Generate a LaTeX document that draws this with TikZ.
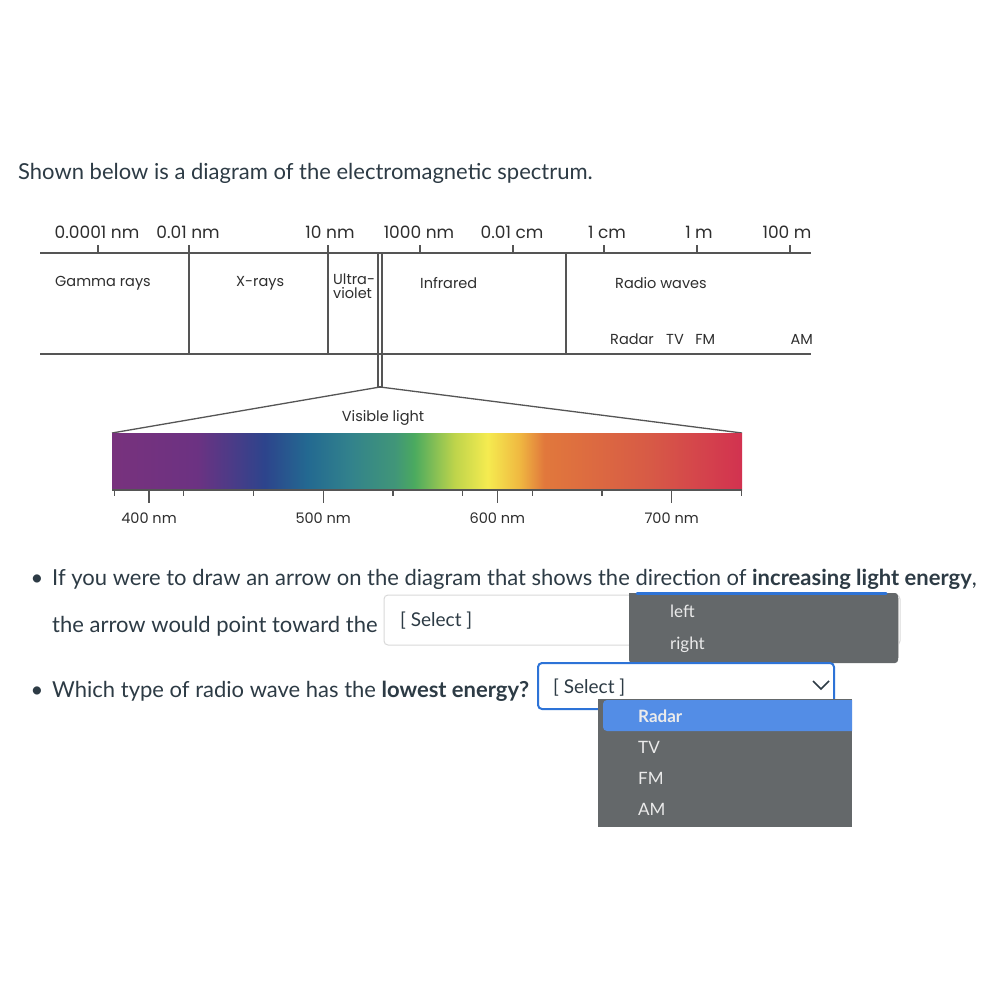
\documentclass[tikz,border=0pt]{standalone}
\usepackage{fontspec}
\setmainfont{Lato}
\newfontfamily\specfont{Poppins}
\usetikzlibrary{positioning,calc}
% colours of the visible band
\definecolor{v1}{RGB}{120,50,125}
\definecolor{v2}{RGB}{108,50,130}
\definecolor{v3}{RGB}{45,68,140}
\definecolor{v4}{RGB}{35,105,145}
\definecolor{v4b}{RGB}{50,130,140}
\definecolor{v5}{RGB}{65,150,120}
\definecolor{v6}{RGB}{75,170,95}
\definecolor{v7}{RGB}{190,212,75}
\definecolor{v8}{RGB}{245,235,80}
\definecolor{v9}{RGB}{240,185,65}
\definecolor{v10}{RGB}{225,120,60}
\definecolor{v11}{RGB}{215,90,70}
\definecolor{v12}{RGB}{210,50,80}
\pgfdeclarehorizontalshading{visible}{100bp}{color(0bp)=(v1); color(25bp)=(v1);
  color(31.7bp)=(v2); color(37.1bp)=(v3); color(40.5bp)=(v4); color(43.9bp)=(v4b);
  color(47.5bp)=(v5); color(49bp)=(v6); color(52.2bp)=(v7); color(54.8bp)=(v8);
  color(57.3bp)=(v9); color(59.3bp)=(v10); color(67.7bp)=(v11); color(75bp)=(v12); color(100bp)=(v12)}

\begin{document}
\begin{tikzpicture}[x=1pt,y=-1pt]
	\definecolor{textcolor}{RGB}{45,59,69}
	\definecolor{linecolor}{RGB}{85,85,85}
	\definecolor{menucolor}{RGB}{100,104,106}
	\definecolor{focuscolor}{RGB}{45,115,215}
	\definecolor{pickcolor}{RGB}{83,141,230}
	\tikzstyle{body}=[anchor=base west, inner sep=0pt, text=textcolor, font=\fontsize{22}{26}\selectfont]
	\tikzstyle{bandtext}=[inner sep=0pt, text=black!82, font=\specfont\fontsize{14.5}{14}\selectfont]
	\tikzstyle{ticktext}=[bandtext, anchor=base, font=\specfont\fontsize{17}{18}\selectfont]
	\tikzstyle{option}=[anchor=base west, inner sep=0pt, text=white!92!black, font=\fontsize{17}{18}\selectfont]
	\tikzstyle{rule}=[draw=linecolor, line width=1.3pt]
	\def\nmx#1{149+(#1-400)*1.742}
	
	\useasboundingbox (0,0) rectangle (1000,1000);
	\fill[white] (0,0) rectangle (1000,1000);
	
	% Draw the heading
	\node[body] (title) at (18,180) {Shown below is a diagram of the electromagnetic spectrum.};
	
	% Draw the band of the spectrum
	\draw[rule] (40,253) -- (811,253);
	\draw[rule] (40,354) -- (811,354);
	\foreach \x in {189,328,566}
	 \draw[rule] (\x,253) -- (\x,354);
	\draw[rule] (378,253) -- (378,387);
	\draw[rule] (382,253) -- (382,387);
	\foreach \x in {98,189,328,420,513,604,697,790}
	 \draw[rule] (\x,245) -- (\x,253);
	% Draw the scale labels
	\foreach \x/\txt [count=\i] in {97/0.0001 nm,188/0.01 nm,330/10 nm,419/1000 nm,512/0.01 cm,607/1 cm,699/1 m,787/100 m}
	 \node[ticktext] (S-\i) at (\x,238) {\txt};
	% Draw the band names
	\node[bandtext, anchor=west] (gamma) at (55,283) {Gamma rays};
	\node[bandtext, anchor=west] (xray) at (236,283) {X-rays};
	\node[bandtext, anchor=north west, align=left, font=\specfont\fontsize{14.5}{14}\selectfont] (uv) at (333,274) {Ultra-\\violet};
	\node[bandtext, anchor=west] (ir) at (420,283) {Infrared};
	\node[bandtext, anchor=west] (radio) at (615,283) {Radio waves};
	\node[bandtext, anchor=west] (radar) at (610,339) {Radar};
	\node[bandtext, right=12pt of radar] (tv) {TV};
	\node[bandtext, right=11pt of tv] (fm) {FM};
	\node[bandtext, anchor=east] (am) at (813,339) {AM};
	
	% Draw the visible light fan
	\coordinate (apex) at (380,387);
	\coordinate (bar-l) at (112,433);
	\coordinate (bar-r) at (742,433);
	\draw[rule] (apex) -- (bar-l);
	\draw[rule] (apex) -- (bar-r);
	\draw[rule] (378,387) -- (382,387);
	\node[bandtext, anchor=base] (vis) at (383,421) {Visible light};
	\shade[shading=visible] (112,433) rectangle (742,490);
	\draw[rule] (112,490) -- (742,490);
	\foreach \nm in {380,420,...,740}
	 \draw[rule] ({\nmx{\nm}},490) -- ({\nmx{\nm}},496);
	\foreach \nm in {400,500,600,700}
	 \draw[rule] ({\nmx{\nm}},490) -- ({\nmx{\nm}},503)
	  node[bandtext, anchor=base] (W-\nm) at ({\nmx{\nm}},523) {\nm{} nm};
	
	% Draw the first question
	\node[body, anchor=base] (dot-1) at (37,585) {•};
	\node[body] (q-1) at (52,585) {If you were to draw an arrow on the diagram that shows the direction of \textbf{increasing light energy},};
	\node[body] (q-1b) at (52,632) {the arrow would point toward the};
	\draw[draw=black!15, line width=1pt, rounded corners=4pt, fill=white] (384,595) rectangle (900,645);
	\node[body, font=\fontsize{19}{20}\selectfont] (sel-1) at (400,626) {[ Select ]};
	\fill[menucolor, rounded corners=3pt] (629,593) -- (898,593) -- (898,663) -- (629,663) [sharp corners] -- cycle;
	\draw[black!25, line width=1pt] (898,598) -- (898,658);
	\draw[focuscolor, line width=3pt, line cap=round] (637,593) -- (886,593);
	\node[option] (left) at (670,617) {left};
	\node[option] (right) at (670,649) {right};
	
	% Draw the second question
	\node[body, anchor=base] (dot-2) at (37,697) {•};
	\node[body] (q-2) at (52,697) {Which type of radio wave has the \textbf{lowest energy?}};
	\draw[draw=focuscolor, line width=2pt, rounded corners=4pt, fill=white] (538,663) rectangle (834,709);
	\node[body, font=\fontsize{19}{20}\selectfont] (sel-2) at (553,693) {[ Select ]};
	\draw[textcolor, line width=1.5pt] (813,681) -- (821,689) -- (829,681);
	\fill[menucolor] (598,699) rectangle (852,827);
	\fill[pickcolor, rounded corners=4pt] (852,700) -- (603,700) -- (603,731) -- (852,731);
	\node[option, font=\bfseries\fontsize{17}{18}\selectfont] (o-radar) at (638,722) {Radar};
	\foreach \txt/\y in {TV/753,FM/784,AM/815}
	 \node[option] (o-\txt) at (638,\y) {\txt};
\end{tikzpicture}
\end{document}
